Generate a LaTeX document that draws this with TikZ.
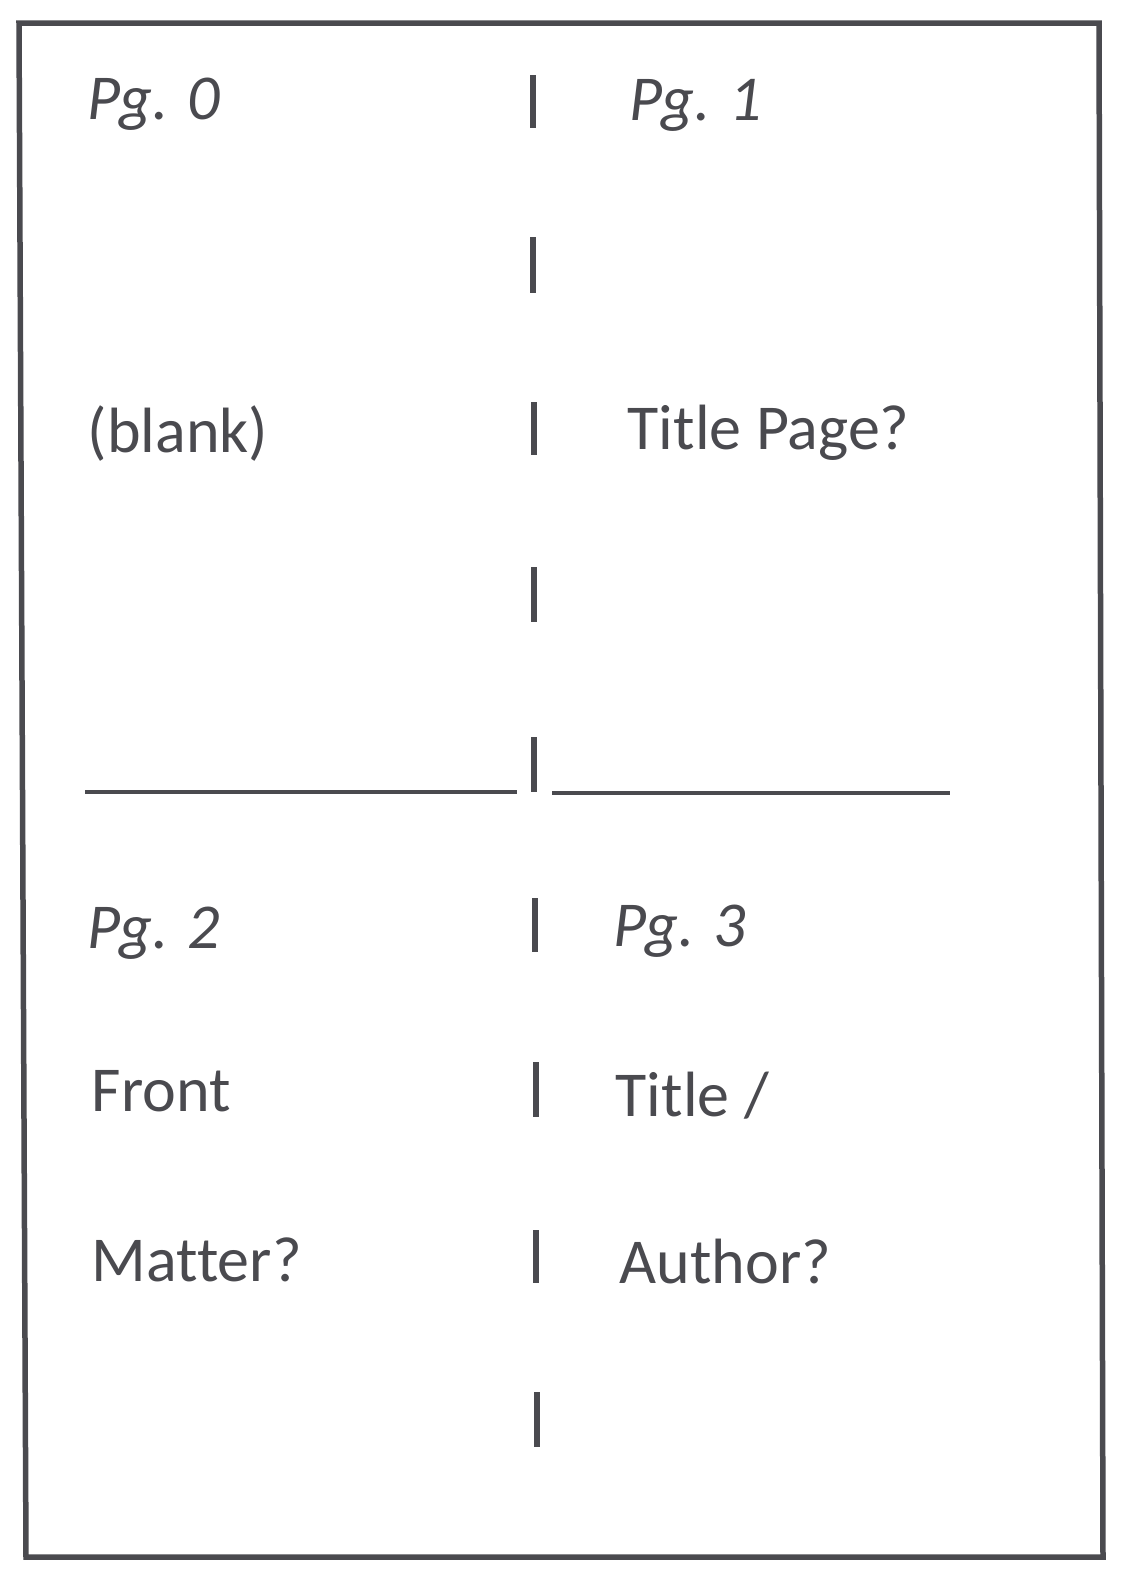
\documentclass[tikz,border=0pt]{standalone}
\usepackage{fontspec}
\setmainfont{Carlito}[Ligatures={NoCommon}]
\newlength{\du}
\setlength{\du}{0.5pt}
\begin{document}
\begin{tikzpicture}
\pgftransformxscale{1.000000}
\pgftransformyscale{-1.000000}
\definecolor{dialinecolor}{rgb}{0.290000, 0.290000, 0.310000}
\pgfsetstrokecolor{dialinecolor}
\tikzset{pagetext/.style={anchor=base west, inner sep=0pt, text=dialinecolor, font=\fontsize{32}{38}\selectfont}}
\useasboundingbox (0\du,0\du) rectangle (1130\du,1580\du);
% sheet outline
\pgfsetlinewidth{5.500000\du}
\pgfsetmiterjoin
\draw (19.000000\du,23.000000\du)--(1099.000000\du,23.000000\du)--(1103.000000\du,1557.000000\du)--(26.000000\du,1557.000000\du)--cycle;
% fold line, typed as bars
\pgfsetlinewidth{6.000000\du}
\pgfsetbuttcap
\draw (533.000000\du,75.000000\du)--(533.000000\du,128.000000\du);
\draw (533.000000\du,237.000000\du)--(533.000000\du,293.000000\du);
\draw (534.000000\du,402.000000\du)--(534.000000\du,455.000000\du);
\draw (534.000000\du,567.000000\du)--(534.000000\du,622.000000\du);
\draw (534.000000\du,737.000000\du)--(534.000000\du,792.000000\du);
\draw (535.000000\du,898.000000\du)--(535.000000\du,952.000000\du);
\draw (536.000000\du,1062.000000\du)--(536.000000\du,1117.000000\du);
\draw (536.000000\du,1230.000000\du)--(536.000000\du,1283.000000\du);
\draw (537.000000\du,1392.000000\du)--(537.000000\du,1447.000000\du);
% cut line
\pgfsetlinewidth{3.500000\du}
\draw (85.000000\du,792.000000\du)--(517.000000\du,792.000000\du);
\draw (552.000000\du,793.000000\du)--(950.000000\du,793.000000\du);
% page labels
\node[pagetext] (pgzero) at (86.000000\du,119.000000\du){\itshape Pg. 0};
\node[pagetext] (pgone) at (628.000000\du,120.000000\du){\itshape Pg. 1};
\node[pagetext] (blank) at (86.000000\du,452.000000\du){(blank)};
\node[pagetext] (titlepage) at (626.000000\du,449.000000\du){Title Page?};
\node[pagetext] (pgtwo) at (86.000000\du,948.000000\du){\itshape Pg. 2};
\node[pagetext] (pgthree) at (612.000000\du,946.000000\du){\itshape Pg. 3};
\node[pagetext] (front) at (90.000000\du,1111.000000\du){Front};
\node[pagetext] (titleauthor) at (614.000000\du,1116.000000\du){Title /};
\node[pagetext] (matter) at (90.000000\du,1281.000000\du){Matter?};
\node[pagetext] (author) at (618.000000\du,1283.000000\du){Author?};
\end{tikzpicture}
\end{document}
